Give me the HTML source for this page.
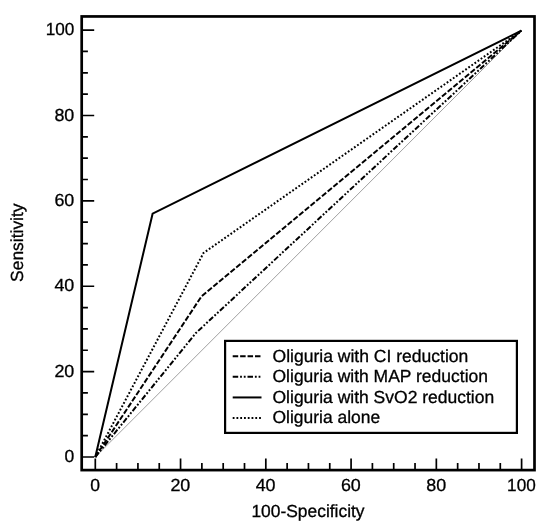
<!DOCTYPE html>
<html><head><meta charset="utf-8"><style>
html,body{margin:0;padding:0;background:#fff;}
svg{display:block;}
text{font-family:"Liberation Sans",Arial,sans-serif;font-size:17.5px;fill:#000;stroke:#000;stroke-width:0.3px;text-rendering:geometricPrecision;}
</style></head><body>
<svg width="550" height="530" viewBox="0 0 550 530">
<rect x="81.7" y="16.45" width="452.80" height="453.65" fill="none" stroke="#000" stroke-width="2.7"/>
<path d="M81.70 457.00H94.20 M95.30 470.10V458.50 M81.70 435.65H87.90 M116.61 470.10V463.10 M81.70 414.31H87.90 M137.93 470.10V463.10 M81.70 392.97H87.90 M159.25 470.10V463.10 M81.70 371.62H94.20 M180.56 470.10V458.50 M81.70 350.27H87.90 M201.88 470.10V463.10 M81.70 328.93H87.90 M223.19 470.10V463.10 M81.70 307.59H87.90 M244.50 470.10V463.10 M81.70 286.24H94.20 M265.82 470.10V458.50 M81.70 264.89H87.90 M287.13 470.10V463.10 M81.70 243.55H87.90 M308.45 470.10V463.10 M81.70 222.21H87.90 M329.76 470.10V463.10 M81.70 200.86H94.20 M351.08 470.10V458.50 M81.70 179.51H87.90 M372.40 470.10V463.10 M81.70 158.17H87.90 M393.71 470.10V463.10 M81.70 136.82H87.90 M415.03 470.10V463.10 M81.70 115.48H94.20 M436.34 470.10V458.50 M81.70 94.13H87.90 M457.66 470.10V463.10 M81.70 72.79H87.90 M478.97 470.10V463.10 M81.70 51.44H87.90 M500.29 470.10V463.10 M81.70 30.10H94.20 M521.60 470.10V458.50" stroke="#000" stroke-width="1.7" fill="none"/>
<text x="74.3" y="462" text-anchor="end">0</text>
<text x="95.10" y="491" text-anchor="middle">0</text>
<text x="74.3" y="377" text-anchor="end" textLength="19.9" lengthAdjust="spacingAndGlyphs">20</text>
<text x="180.36" y="491" text-anchor="middle" textLength="19.9" lengthAdjust="spacingAndGlyphs">20</text>
<text x="74.3" y="291" text-anchor="end" textLength="19.9" lengthAdjust="spacingAndGlyphs">40</text>
<text x="265.62" y="491" text-anchor="middle" textLength="19.9" lengthAdjust="spacingAndGlyphs">40</text>
<text x="74.3" y="206" text-anchor="end" textLength="19.9" lengthAdjust="spacingAndGlyphs">60</text>
<text x="350.88" y="491" text-anchor="middle" textLength="19.9" lengthAdjust="spacingAndGlyphs">60</text>
<text x="74.3" y="121" text-anchor="end" textLength="19.9" lengthAdjust="spacingAndGlyphs">80</text>
<text x="436.14" y="491" text-anchor="middle" textLength="19.9" lengthAdjust="spacingAndGlyphs">80</text>
<text x="74.3" y="35" text-anchor="end" textLength="28.6" lengthAdjust="spacingAndGlyphs">100</text>
<text x="521.40" y="491" text-anchor="middle" textLength="28.6" lengthAdjust="spacingAndGlyphs">100</text>
<text x="308" y="516.9" text-anchor="middle" textLength="113.1" lengthAdjust="spacingAndGlyphs">100-Specificity</text>
<text transform="translate(23.3 242.7) rotate(-90)" text-anchor="middle" textLength="78.5" lengthAdjust="spacingAndGlyphs">Sensitivity</text>
<path d="M95.30 457.00 L521.40 30.60" stroke="#a0a0a0" stroke-width="1" fill="none"/>
<path d="M95.30 457.00 L201.60 296.20 L521.40 30.60" stroke="#000" stroke-width="2" fill="none" stroke-dasharray="5.5 1.93"/>
<path d="M95.30 457.00 L195.60 333.30 L521.40 30.60" stroke="#000" stroke-width="2" fill="none" stroke-dasharray="5.5 1.9 1.8 1.9 1.8 1.9"/>
<path d="M95.30 457.00 L152.60 213.70 L521.40 30.60" stroke="#000" stroke-width="2" fill="none"/>
<path d="M95.30 457.00 L203.50 253.00 L521.40 30.60" stroke="#000" stroke-width="2" fill="none" stroke-dasharray="1.8 1.97"/>
<rect x="225.1" y="340.9" width="291.80" height="92.00" fill="#fff" stroke="#000" stroke-width="2.2"/>
<path d="M232.7 356.30H261.5" stroke="#000" stroke-width="2" fill="none" stroke-dasharray="5.5 1.93"/>
<text x="272.5" y="362.00" textLength="195.8" lengthAdjust="spacingAndGlyphs">Oliguria with CI reduction</text>
<path d="M232.7 376.87H261.5" stroke="#000" stroke-width="2" fill="none" stroke-dasharray="5.5 1.9 1.8 1.9 1.8 1.9"/>
<text x="272.5" y="382.00" textLength="215.5" lengthAdjust="spacingAndGlyphs">Oliguria with MAP reduction</text>
<path d="M232.7 397.44H261.5" stroke="#000" stroke-width="2" fill="none"/>
<text x="272.5" y="403.00" textLength="221.7" lengthAdjust="spacingAndGlyphs">Oliguria with SvO2 reduction</text>
<path d="M232.7 418.01H261.5" stroke="#000" stroke-width="2" fill="none" stroke-dasharray="1.8 1.97"/>
<text x="272.5" y="423.00" textLength="107.6" lengthAdjust="spacingAndGlyphs">Oliguria alone</text>
</svg>
</body></html>
